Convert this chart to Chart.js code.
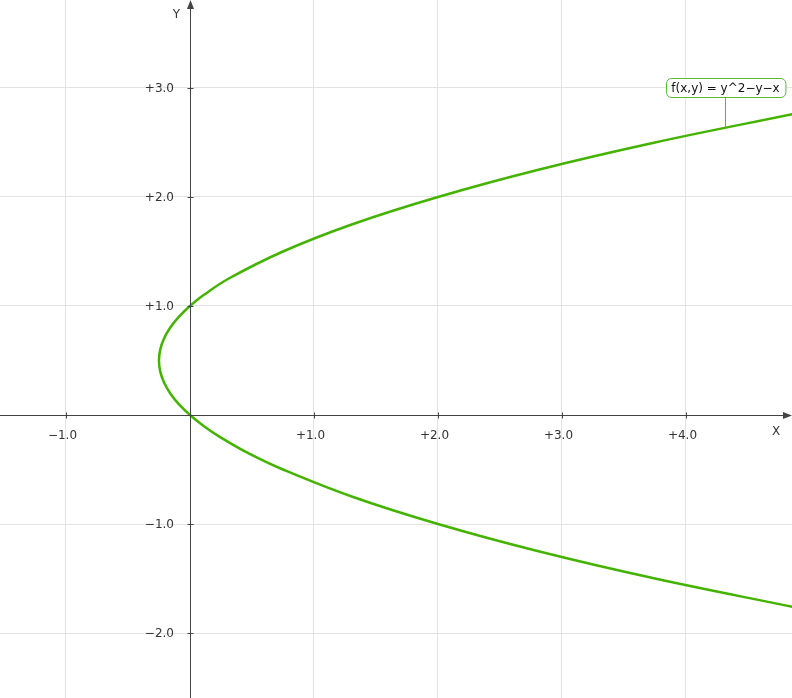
<!DOCTYPE html>
<html>
<head>
<meta charset="utf-8">
<script src="https://cdn.jsdelivr.net/npm/chart.js@4.4.1/dist/chart.umd.min.js"></script>
<style>
html,body{margin:0;padding:0;background:#fff;}
#wrap{width:792px;height:698px;position:relative;}
</style>
</head>
<body>
<div id="wrap"><canvas id="c" width="792" height="698"></canvas></div>
<script>
// Curve points (x, y)
const curveY = [-1.76,-1.5,-1.25,-1.0,-0.75,-0.5,-0.35,-0.2,-0.1,0.0,0.1,0.2,0.3,0.4,0.5,0.6,0.7,0.8,0.9,1.0,1.1,1.25,1.5,1.75,2.0,2.25,2.5,2.76];
const curveX = [4.86,3.75,2.81,2.0,1.31,0.75,0.47,0.24,0.11,0.0,-0.09,-0.16,-0.21,-0.24,-0.25,-0.24,-0.21,-0.16,-0.09,0.0,0.11,0.31,0.75,1.31,2.0,2.81,3.75,4.86];
const xTicks = [-1,1,2,3,4];
const yTicks = [-2,-1,1,2,3];
const xTickLabels = ['\u22121.0','+1.0','+2.0','+3.0','+4.0'];
const yTickLabels = ['\u22122.0','\u22121.0','+1.0','+2.0','+3.0'];
const xRange = [-1.532, 4.855];
const yRange = [-2.596, 3.807];
const seriesLabel = 'f(x,y) = y^2\u2212y\u2212x';
const labelAt = {x: 4.315, y: 2.64};

const pts = curveX.map((x,i)=>({x:x,y:curveY[i]}));
const FONT = '12px "DejaVu Sans", sans-serif';
const AX = '#444';
const GREEN = '#43b300';

const axesPlugin = {
  id:'axesPlugin',
  afterDatasetsDraw(chart){
    const ctx = chart.ctx, xs = chart.scales.x, ys = chart.scales.y;
    const ox = Math.round(xs.getPixelForValue(0))+0.5, oy = Math.round(ys.getPixelForValue(0))+0.5;
    const W = chart.width, H = chart.height;
    ctx.save();
    ctx.strokeStyle = AX; ctx.fillStyle = AX; ctx.lineWidth = 1;
    ctx.beginPath(); ctx.moveTo(0,oy); ctx.lineTo(W-6,oy); ctx.stroke();
    ctx.beginPath(); ctx.moveTo(ox,H); ctx.lineTo(ox,6); ctx.stroke();
    // arrows
    ctx.beginPath(); ctx.moveTo(W,oy); ctx.lineTo(W-9,oy-3.5); ctx.lineTo(W-9,oy+3.5); ctx.closePath(); ctx.fill();
    ctx.beginPath(); ctx.moveTo(ox,0); ctx.lineTo(ox-3.5,9); ctx.lineTo(ox+3.5,9); ctx.closePath(); ctx.fill();
    ctx.font = FONT; ctx.fillStyle = '#333';
    // x ticks
    ctx.textAlign='center'; ctx.textBaseline='middle';
    xTicks.forEach((v,i)=>{
      const px = Math.round(xs.getPixelForValue(v))+0.5;
      ctx.beginPath(); ctx.moveTo(px,oy-3); ctx.lineTo(px,oy+3); ctx.stroke();
      ctx.fillText(xTickLabels[i], px-4, oy+20);
    });
    ctx.textAlign='right'; ctx.textBaseline='middle';
    yTicks.forEach((v,i)=>{
      const py = Math.round(ys.getPixelForValue(v))+0.5;
      ctx.beginPath(); ctx.moveTo(ox-3,py); ctx.lineTo(ox+3,py); ctx.stroke();
      ctx.fillText(yTickLabels[i], ox-16.5, py);
    });
    ctx.textAlign='center';
    ctx.fillText('X', W-16, oy+16);
    ctx.fillText('Y', ox-14, 15);
    // series label
    const lx = xs.getPixelForValue(labelAt.x), ly = ys.getPixelForValue(labelAt.y);
    const bx = Math.round(lx)+0.5;
    const boxCY = ys.getPixelForValue(3.0);
    ctx.font = FONT;
    const tw = ctx.measureText(seriesLabel).width;
    const bw = tw+11, bh = 19;
    ctx.strokeStyle = '#5cb82e';
    ctx.beginPath(); ctx.moveTo(bx, boxCY+bh/2); ctx.lineTo(bx, ly); ctx.stroke();
    ctx.fillStyle='#fff';
    ctx.beginPath(); ctx.roundRect(Math.round(bx-bw/2)+0.5, Math.round(boxCY-bh/2)+0.5, bw, bh, 5); ctx.fill(); ctx.stroke();
    ctx.fillStyle='#111'; ctx.textAlign='center'; ctx.textBaseline='middle';
    ctx.fillText(seriesLabel, bx, boxCY+1);
    ctx.restore();
  }
};

new Chart(document.getElementById('c'), {
  type:'scatter',
  data:{datasets:[{label:seriesLabel,data:pts,showLine:true,borderColor:GREEN,borderWidth:2.5,pointRadius:0,tension:0.4,fill:false}]},
  options:{
    responsive:false, animation:false, devicePixelRatio:1,
    layout:{padding:0},
    plugins:{legend:{display:false},tooltip:{enabled:false}},
    scales:{
      x:{type:'linear',min:xRange[0],max:xRange[1],
         afterBuildTicks(s){s.ticks=xTicks.map(v=>({value:v}));},
         ticks:{display:false},grid:{color:'#e3e3e3',drawTicks:false},border:{display:false}},
      y:{type:'linear',min:yRange[0],max:yRange[1],
         afterBuildTicks(s){s.ticks=yTicks.map(v=>({value:v}));},
         ticks:{display:false},grid:{color:'#e3e3e3',drawTicks:false},border:{display:false}}
    }
  },
  plugins:[axesPlugin]
});
</script>
</body>
</html>
